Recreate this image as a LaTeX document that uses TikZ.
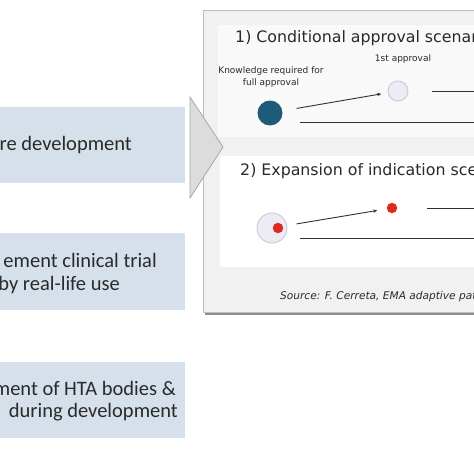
\documentclass[tikz,border=0pt]{standalone}
\usepackage{fontspec}
\usepackage{tikz}
\newfontfamily\verdanalike{DejaVu Sans}
\newfontfamily\calibrilike{Carlito}
\definecolor{APBox}{HTML}{D6E0EB}
\definecolor{APText}{HTML}{2A2A2A}
\definecolor{APFrame}{HTML}{F1F1F1}
\definecolor{APFrameLine}{HTML}{BDBDBD}
\definecolor{APShadow}{HTML}{8E8E8E}
\definecolor{APChevron}{HTML}{DCDCDC}
\definecolor{APChevronLine}{HTML}{A8A8A8}
\definecolor{APDark}{HTML}{1E5B78}
\definecolor{APPale}{HTML}{ECECF6}
\definecolor{APPaleLine}{HTML}{C4C4D6}
\definecolor{APRed}{HTML}{DD2A22}
\definecolor{APLine}{HTML}{303030}
\tikzset{
  leftbox/.style={fill=APBox},
  boxtext/.style={anchor=east,inner sep=0pt,text=APText,font=\calibrilike\fontsize{20.5}{24}\selectfont},
  scentitle/.style={anchor=west,inner sep=0pt,text=APText,font=\verdanalike\fontsize{15.8}{18}\selectfont},
  smalllabel/.style={align=center,inner sep=0pt,text=APText,font=\verdanalike\fontsize{9}{12.5}\selectfont},
  paledot/.style={circle,fill=APPale,draw=APPaleLine,line width=0.8pt,inner sep=0pt},
  reddot/.style={circle,fill=APRed,inner sep=0pt,minimum size=10.5pt},
  timeline/.style={APLine,line width=0.9pt},
  steparrow/.style={APLine,line width=0.9pt,-{Stealth[length=4pt,width=3.5pt]}}
}
\usetikzlibrary{arrows.meta}
\begin{document}
\begin{tikzpicture}[x=1pt,y=-1pt]
\path[use as bounding box] (0,0) rectangle (474,474);
\clip (0,0) rectangle (474,474);
\fill[white] (0,0) rectangle (474,474);
% left column
\fill[leftbox] (-5,107) rectangle (185,183);
\node[boxtext] (dev) at (132,145) {re development};
\fill[leftbox] (-5,233) rectangle (185,310);
\node[boxtext] (trial) at (157,260) {ement clinical trial};
\node[boxtext] (use) at (120,285) {by real-life use};
\fill[leftbox] (-5,362) rectangle (185,438);
\node[boxtext] (hta) at (176,388) {ment of HTA bodies \&};
\node[boxtext] (during) at (178,412) {during development};
% right frame
\fill[APShadow] (205,13) rectangle (495,315);
\filldraw[fill=APFrame,draw=APFrameLine,line width=0.8pt] (203,10) rectangle (495,312);
\fill[white!60!APFrame] (218,25) rectangle (495,137);
\fill[white] (220,156) rectangle (495,267);
% chevron
\filldraw[fill=APChevron,draw=APChevronLine,line width=0.8pt] (190,97) -- (223,147) -- (190,198) -- cycle;
% scenario 1
\node[scentitle] (title1) at (235,38) {1) Conditional approval scenario};
\node[smalllabel] (knowlabel) at (271,77) {Knowledge required for\\full approval};
\node[smalllabel] (firstlabel) at (403,59) {1st approval};
\node[circle,fill=APDark,inner sep=0pt,minimum size=25pt] (knowdot) at (270,113) {};
\node[paledot,minimum size=20pt] (firstdot) at (398,91) {};
\coordinate (edge1) at (480,91);
\coordinate (base1) at (300,122);
\coordinate (base1end) at (480,122);
\draw[steparrow,shorten <=27pt,shorten >=17pt] (knowdot.center) -- (firstdot.center);
\draw[timeline,shorten <=34pt] (firstdot.center) -- (edge1);
\draw[timeline] (base1) -- (base1end);
% scenario 2
\node[scentitle] (title2) at (240,171) {2) Expansion of indication scenario};
\node[paledot,minimum size=30pt] (widedot) at (272,228) {};
\node[reddot] (narrowdot) at (278,228) {};
\node[reddot] (seconddot) at (392,208) {};
\coordinate (edge2) at (480,208);
\coordinate (base2) at (300,238);
\coordinate (base2end) at (480,238);
\draw[steparrow,shorten <=25pt,shorten >=15pt] (widedot.center) -- (seconddot.center);
\draw[timeline,shorten <=35pt] (seconddot.center) -- (edge2);
\draw[timeline] (base2) -- (base2end);
% source
\node[anchor=west,inner sep=0pt,text=APText,font=\verdanalike\itshape\fontsize{10.6}{12}\selectfont] (source) at (280,297) {Source: F. Cerreta, EMA adaptive pathways};
\end{tikzpicture}
\end{document}
